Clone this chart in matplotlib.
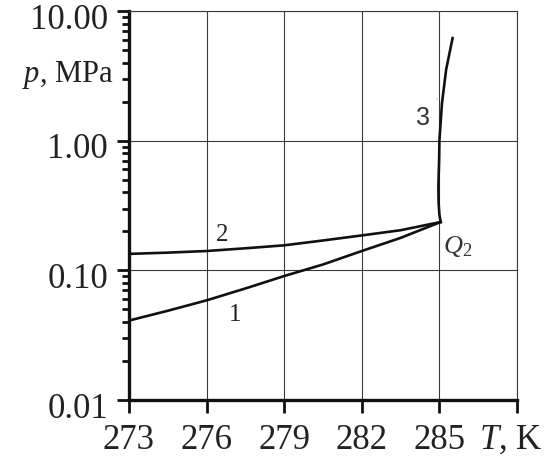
import matplotlib

matplotlib.use("Agg")
import matplotlib.pyplot as plt
import matplotlib.transforms as mtransforms
from matplotlib.ticker import FixedLocator, LogLocator, NullFormatter

# curve data (T in K, p in MPa)
T1 = [273.0, 274.5, 276.0, 277.5, 279.0, 280.5, 282.0, 283.5, 285.05]
P1 = [0.041, 0.0488, 0.0587, 0.0725, 0.0904, 0.111, 0.141, 0.178, 0.236]

T2 = [273.0, 274.5, 276.0, 277.5, 279.0, 280.5, 282.0, 283.5, 285.05]
P2 = [0.134, 0.137, 0.141, 0.148, 0.156, 0.170, 0.186, 0.204, 0.236]

T3 = [285.05, 285.0, 284.97, 284.96, 284.99, 285.0, 285.1, 285.26, 285.51]
P3 = [0.236, 0.27, 0.33, 0.444, 0.714, 1.0, 1.95, 3.53, 6.19]

X_TICKS = [273, 276, 279, 282, 285, 288]
X_LABELS = ["273", "276", "279", "282", "285", ""]
Y_TICKS = [0.01, 0.1, 1.0, 10.0]
Y_LABELS = ["0.01", "0.10", "1.00", "10.00"]

SERIF = "Liberation Serif"


def main() -> None:
    plt.rcParams["font.family"] = SERIF
    plt.rcParams["mathtext.fontset"] = "custom"
    plt.rcParams["mathtext.rm"] = SERIF
    plt.rcParams["mathtext.it"] = SERIF + ":italic"

    fig = plt.figure(figsize=(5.5, 4.61), dpi=100)
    ax = fig.add_axes([0.2345, 0.1323, 0.7055, 0.8437])

    ax.set_yscale("log")
    ax.set_xlim(273, 288)
    ax.set_ylim(0.01, 10)

    # grid in thin dark grey
    ax.grid(True, which="major", color="#3a3a3a", linewidth=0.8)
    ax.set_axisbelow(True)

    lw = 1.9
    ax.plot(T1, P1, color="#111111", linewidth=lw, zorder=3)
    ax.plot(T2, P2, color="#111111", linewidth=lw, zorder=3)
    ax.plot(T3, P3, color="#111111", linewidth=lw, zorder=3)

    ax.set_xticks(X_TICKS)
    ax.set_xticklabels(X_LABELS)
    ax.yaxis.set_major_locator(FixedLocator(Y_TICKS))
    ax.set_yticklabels(Y_LABELS)
    ax.yaxis.set_minor_locator(LogLocator(base=10, subs=range(2, 10)))
    ax.yaxis.set_minor_formatter(NullFormatter())
    ax.xaxis.set_minor_locator(FixedLocator([]))

    ax.tick_params(axis="both", which="major", direction="out", length=9,
                   width=2, labelsize=25, color="#111111", labelcolor="#222222")
    ax.tick_params(axis="y", which="minor", direction="out", length=5,
                   width=2, color="#111111")
    ax.tick_params(axis="x", pad=8)
    ax.tick_params(axis="y", pad=6)

    # y tick labels sit a little below their ticks in the original
    shift = mtransforms.ScaledTranslation(0, -5 / 100, fig.dpi_scale_trans)
    for lbl in ax.get_yticklabels():
        lbl.set_transform(lbl.get_transform() + shift)

    for side in ("left", "bottom"):
        ax.spines[side].set_linewidth(2.4)
        ax.spines[side].set_color("#111111")
    for side in ("top", "right"):
        ax.spines[side].set_linewidth(0.8)
        ax.spines[side].set_color("#3a3a3a")

    # axis titles placed like the original
    fig.text(0.207, 0.838, r"$p$, MPa", fontsize=22, ha="right",
             va="center", color="#222222")
    fig.text(0.929, 0.046, r"$T$, K", fontsize=25, ha="center",
             va="center", color="#222222")

    # curve labels
    ax.text(277.1, 0.045, "1", fontsize=18, ha="center", va="center",
            color="#222222")
    ax.text(276.6, 0.187, "2", fontsize=18, ha="center", va="center",
            color="#222222")
    ax.text(284.37, 1.50, "3", fontsize=18, ha="center", va="center",
            color="#333333", family="Liberation Sans")
    ax.text(284.87, 1.95, "'", fontsize=7, ha="center", va="center",
            color="#aaaaaa", family="Liberation Sans")
    ax.text(285.72, 0.152, r"$Q_{2}$", fontsize=19, ha="center",
            va="center", color="#333333")

    fig.savefig("out.png", dpi=100)


if __name__ == "__main__":
    main()
